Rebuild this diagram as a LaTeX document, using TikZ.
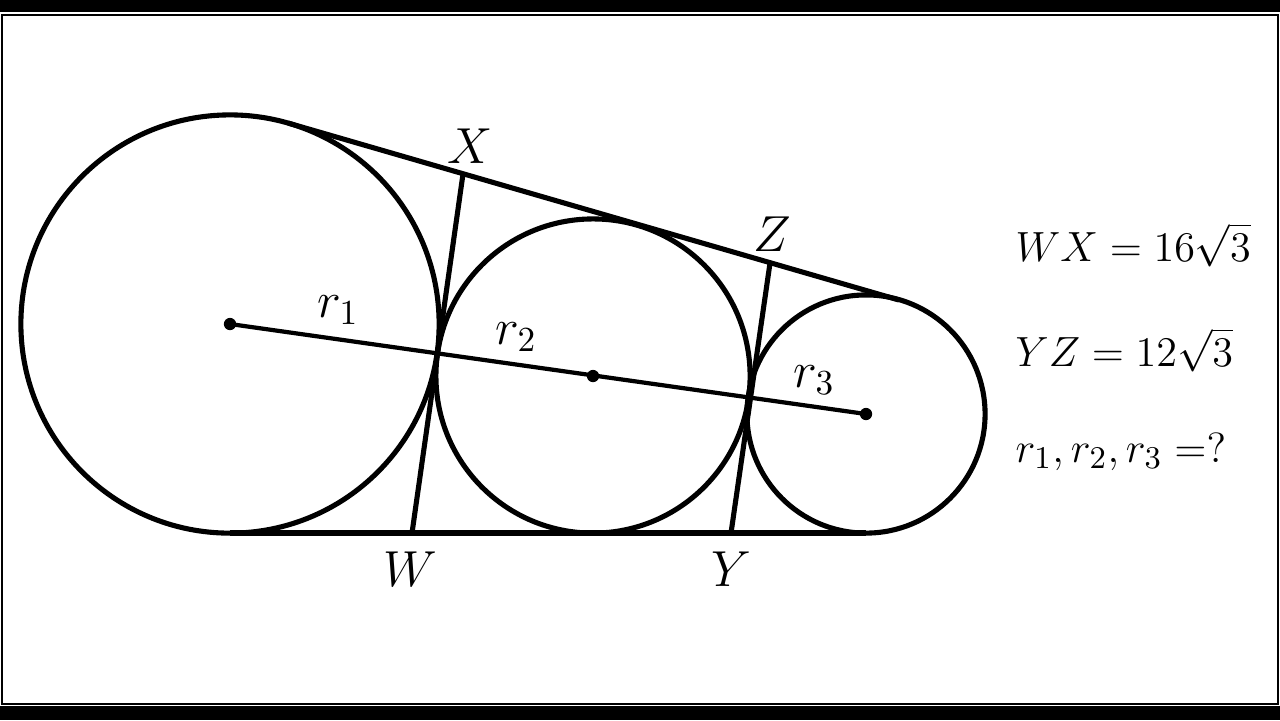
\documentclass[tikz,border=0pt]{standalone}
\usepackage{amsmath}
\usetikzlibrary{positioning}
\tikzset{
  thick line/.style={line width=1.45pt},
  center dot/.style={circle, fill=black, inner sep=0pt, minimum size=3.5pt},
  lbl/.style={font=\fontsize{14}{16}\selectfont},
  eqn/.style={font=\fontsize{12.5}{15}\selectfont, anchor=west, inner sep=0pt},
}
\begin{document}
\begin{tikzpicture}[x=0.01cm, y=-0.01cm]
\useasboundingbox (0,0) rectangle (1280,720);
\fill (0,0) rectangle (1280,12);
\fill (0,706) rectangle (1280,720);
\draw[line width=0.6pt] (2,15) rectangle (1278,704);
% centres
\node[center dot] (O1) at (230,324) {};
\node[center dot] (O2) at (593,376) {};
\node[center dot] (O3) at (866,414) {};
\draw[thick line] (O1.center) circle (2.09cm);
\draw[thick line] (O2.center) circle (1.57cm);
\draw[thick line] (O3.center) circle (1.19cm);
% tangents
\coordinate (T1) at (288,123);
\coordinate (T3) at (899,300);
\coordinate (B1) at (230,533);
\coordinate (B3) at (866,533);
\draw[thick line] (T1) -- (T3);
\draw[thick line] (B1) -- (B3);
\coordinate (X) at (463,174);
\coordinate (W) at (412,533);
\coordinate (Z) at (770,263);
\coordinate (Y) at (731,533);
\draw[thick line] (X) -- (W);
\draw[thick line] (Z) -- (Y);
\draw[line width=1.2pt] (O1.center) -- (O3.center);
% labels
\node[lbl] at (470,146) {$X$};
\node[lbl] at (772,234) {$Z$};
\node[lbl] at (410,569) {$W$};
\node[lbl] at (731,569) {$Y$};
\node[lbl] at (338,310) {$r_1$};
\node[lbl] at (516,337) {$r_2$};
\node[lbl] at (814,380) {$r_3$};
\node[eqn] at (1015,245) {$WX=16\sqrt{3}$};
\node[eqn] at (1015,350) {$YZ=12\sqrt{3}$};
\node[eqn] at (1015,452) {$r_1,r_2,r_3=?$};
\end{tikzpicture}
\end{document}
